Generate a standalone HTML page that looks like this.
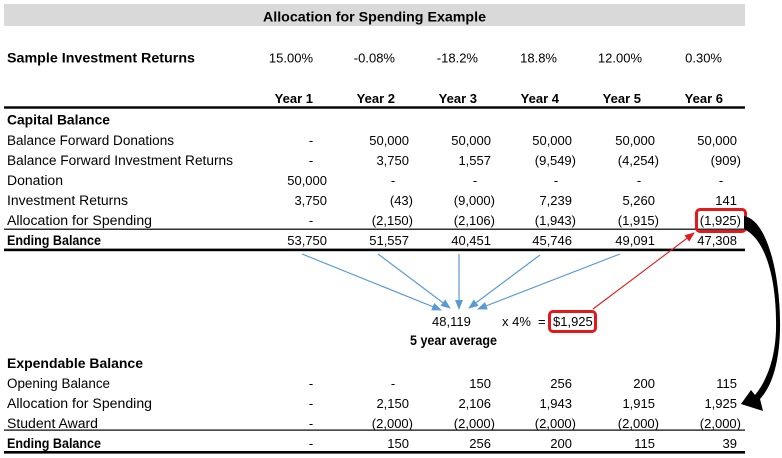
<!DOCTYPE html>
<html>
<head>
<meta charset="utf-8">
<style>
html,body{margin:0;padding:0;background:#fff;}
svg{display:block;}
text{font-family:"Liberation Sans",Arial,sans-serif;fill:#000;}
.b{font-weight:bold;}
.l{font-size:13.5px;}
.n{font-size:13px;}
.e{text-anchor:end;}
.m{text-anchor:middle;}
</style>
</head>
<body>
<svg width="782" height="458" viewBox="0 0 782 458" xmlns="http://www.w3.org/2000/svg">
<defs>
  <marker id="ba" markerWidth="10" markerHeight="8" refX="9" refY="4" orient="auto" markerUnits="userSpaceOnUse">
    <path d="M0,0 L10,4 L0,8 Z" fill="#5b9bd5"/>
  </marker>
  <marker id="ra" markerWidth="10" markerHeight="8" refX="9" refY="4" orient="auto" markerUnits="userSpaceOnUse">
    <path d="M0,0 L10,4 L0,8 Z" fill="#e3191c"/>
  </marker>
</defs>
<rect x="0" y="0" width="782" height="458" fill="#fff"/>
<!-- title bar -->
<rect x="4" y="4" width="741" height="22" fill="#d9d9d9"/>
<text class="b l" x="263" y="21.5" textLength="223" lengthAdjust="spacingAndGlyphs">Allocation for Spending Example</text>

<!-- returns -->
<text class="b l" x="7" y="62.5" textLength="188" lengthAdjust="spacingAndGlyphs">Sample Investment Returns</text>
<text class="n e" x="313" y="62.5">15.00%</text>
<text class="n e" x="395" y="62.5">-0.08%</text>
<text class="n e" x="478" y="62.5">-18.2%</text>
<text class="n e" x="557" y="62.5">18.8%</text>
<text class="n e" x="642" y="62.5">12.00%</text>
<text class="n e" x="722" y="62.5">0.30%</text>

<!-- year headers -->
<text class="b n e" x="313" y="103">Year 1</text>
<text class="b n e" x="395" y="103">Year 2</text>
<text class="b n e" x="477" y="103">Year 3</text>
<text class="b n e" x="559" y="103">Year 4</text>
<text class="b n e" x="641" y="103">Year 5</text>
<text class="b n e" x="723" y="103">Year 6</text>
<rect x="4" y="106.3" width="741" height="2.4" fill="#000"/>

<!-- capital balance -->
<text class="b l" x="7" y="124.5" textLength="103" lengthAdjust="spacingAndGlyphs">Capital Balance</text>
<text class="l" x="7" y="145" textLength="167" lengthAdjust="spacingAndGlyphs">Balance Forward Donations</text>
<text class="l" x="7" y="165" textLength="226" lengthAdjust="spacingAndGlyphs">Balance Forward Investment Returns</text>
<text class="l" x="7" y="185" textLength="56" lengthAdjust="spacingAndGlyphs">Donation</text>
<text class="l" x="7" y="205" textLength="121" lengthAdjust="spacingAndGlyphs">Investment Returns</text>
<text class="l" x="7" y="225" textLength="145" lengthAdjust="spacingAndGlyphs">Allocation for Spending</text>
<text class="b l" x="7" y="245" textLength="94" lengthAdjust="spacingAndGlyphs">Ending Balance</text>

<g class="n">
<text class="n m" x="311" y="145">-</text>
<text class="n e" x="409" y="145">50,000</text>
<text class="n e" x="491" y="145">50,000</text>
<text class="n e" x="572" y="145">50,000</text>
<text class="n e" x="655" y="145">50,000</text>
<text class="n e" x="737" y="145">50,000</text>

<text class="n m" x="311" y="165">-</text>
<text class="n e" x="409" y="165">3,750</text>
<text class="n e" x="491" y="165">1,557</text>
<text class="n e" x="576" y="165">(9,549)</text>
<text class="n e" x="659" y="165">(4,254)</text>
<text class="n e" x="741" y="165">(909)</text>

<text class="n e" x="327" y="185">50,000</text>
<text class="n m" x="393" y="185">-</text>
<text class="n m" x="475" y="185">-</text>
<text class="n m" x="556" y="185">-</text>
<text class="n m" x="639" y="185">-</text>
<text class="n m" x="721" y="185">-</text>

<text class="n e" x="327" y="205">3,750</text>
<text class="n e" x="413" y="205">(43)</text>
<text class="n e" x="495" y="205">(9,000)</text>
<text class="n e" x="572" y="205">7,239</text>
<text class="n e" x="655" y="205">5,260</text>
<text class="n e" x="737" y="205">141</text>

<text class="n m" x="311" y="225">-</text>
<text class="n e" x="413" y="225">(2,150)</text>
<text class="n e" x="495" y="225">(2,106)</text>
<text class="n e" x="576" y="225">(1,943)</text>
<text class="n e" x="659" y="225">(1,915)</text>
<text class="n e" x="741" y="225">(1,925)</text>

<text class="n e" x="327" y="245">53,750</text>
<text class="n e" x="409" y="245">51,557</text>
<text class="n e" x="491" y="245">40,451</text>
<text class="n e" x="572" y="245">45,746</text>
<text class="n e" x="655" y="245">49,091</text>
<text class="n e" x="737" y="245">47,308</text>
</g>
<rect x="4" y="228.6" width="741" height="1.2" fill="#000"/>
<rect x="4" y="248.6" width="741" height="2.6" fill="#000"/>

<!-- red box (1,925) -->
<rect x="696.5" y="209.5" width="49" height="22" rx="3.5" ry="3.5" fill="none" stroke="#e3191c" stroke-width="3"/>

<!-- blue arrows -->
<g stroke="#5b9bd5" stroke-width="1.2" fill="none">
<line x1="302" y1="254" x2="441" y2="310" marker-end="url(#ba)"/>
<line x1="378" y1="254" x2="450" y2="308" marker-end="url(#ba)"/>
<line x1="459" y1="254" x2="459" y2="309" marker-end="url(#ba)"/>
<line x1="540" y1="255" x2="469" y2="308" marker-end="url(#ba)"/>
<line x1="620" y1="254" x2="478" y2="309" marker-end="url(#ba)"/>
</g>

<!-- red arrow -->
<line x1="593" y1="309" x2="694" y2="233" stroke="#e3191c" stroke-width="1.1" marker-end="url(#ra)"/>

<!-- average calc -->
<text class="n" x="432" y="326">48,119</text>
<text class="n" x="502" y="326">x 4%</text>
<text class="n" x="538" y="326">=</text>
<text class="n" x="553" y="326">$1,925</text>
<rect x="549.5" y="311.5" width="46" height="20" rx="3.5" ry="3.5" fill="none" stroke="#e3191c" stroke-width="3"/>
<text class="b l" x="410" y="345" textLength="87" lengthAdjust="spacingAndGlyphs">5 year average</text>

<!-- black curved arrow -->
<path d="M744,216 C768,220 781,278 780,330 C779,366 771,387 760,399 L763,411 L741,404 L751,390 L755,395 C765,383 775,362 776,330 C777,283 767,240 744,229 Z" fill="#000"/>

<!-- expendable balance -->
<text class="b l" x="7" y="368" textLength="136" lengthAdjust="spacingAndGlyphs">Expendable Balance</text>
<text class="l" x="7" y="388" textLength="103" lengthAdjust="spacingAndGlyphs">Opening Balance</text>
<text class="l" x="7" y="408" textLength="145" lengthAdjust="spacingAndGlyphs">Allocation for Spending</text>
<text class="l" x="7" y="428" textLength="91" lengthAdjust="spacingAndGlyphs">Student Award</text>
<text class="b l" x="7" y="448" textLength="94" lengthAdjust="spacingAndGlyphs">Ending Balance</text>

<text class="n m" x="311" y="388">-</text>
<text class="n m" x="393" y="388">-</text>
<text class="n e" x="491" y="388">150</text>
<text class="n e" x="572" y="388">256</text>
<text class="n e" x="655" y="388">200</text>
<text class="n e" x="737" y="388">115</text>

<text class="n m" x="311" y="408">-</text>
<text class="n e" x="409" y="408">2,150</text>
<text class="n e" x="491" y="408">2,106</text>
<text class="n e" x="572" y="408">1,943</text>
<text class="n e" x="655" y="408">1,915</text>
<text class="n e" x="737" y="408">1,925</text>

<text class="n m" x="311" y="428">-</text>
<text class="n e" x="413" y="428">(2,000)</text>
<text class="n e" x="495" y="428">(2,000)</text>
<text class="n e" x="576" y="428">(2,000)</text>
<text class="n e" x="659" y="428">(2,000)</text>
<text class="n e" x="741" y="428">(2,000)</text>

<text class="n m" x="311" y="448">-</text>
<text class="n e" x="409" y="448">150</text>
<text class="n e" x="491" y="448">256</text>
<text class="n e" x="572" y="448">200</text>
<text class="n e" x="655" y="448">115</text>
<text class="n e" x="737" y="448">39</text>

<rect x="4" y="429.5" width="741" height="1.2" fill="#000"/>
<rect x="4" y="451" width="741" height="2.6" fill="#000"/>
</svg>
</body>
</html>
